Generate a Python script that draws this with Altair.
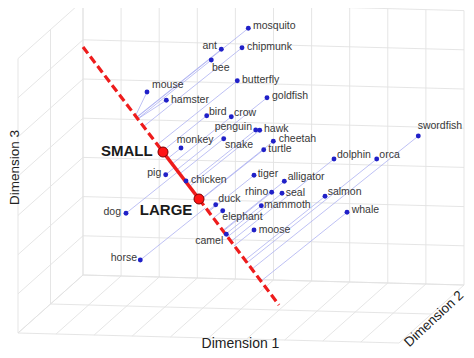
import altair as alt
import pandas as pd

# ---- data: animals as they appear in the projected (viewed) plane ----
names = ["mosquito", "ant", "chipmunk", "bee", "butterfly", "mouse", "hamster",
         "goldfish", "bird", "crow", "penguin", "hawk", "cheetah", "snake",
         "monkey", "turtle", "swordfish", "dolphin", "orca", "pig", "chicken",
         "tiger", "alligator", "rhino", "seal", "salmon", "duck", "mammoth",
         "whale", "dog", "elephant", "camel", "moose", "horse"]
proj_x = [248.3, 221.3, 242.0, 211.3, 237.3, 147.0, 166.3,
          267.0, 206.7, 231.3, 255.7, 259.7, 273.3, 223.7,
          181.0, 263.7, 418.3, 334.0, 376.7, 165.7, 186.0,
          254.0, 284.3, 271.7, 282.0, 325.0, 215.7, 261.3,
          347.0, 126.0, 222.7, 226.3, 254.0, 140.3]
proj_y = [28.3, 49.3, 47.7, 60.0, 80.7, 92.0, 100.3,
          97.7, 115.7, 116.7, 130.0, 130.3, 141.3, 138.7,
          148.0, 149.7, 136.0, 159.0, 159.0, 174.7, 181.0,
          175.3, 181.3, 192.3, 193.3, 196.3, 204.7, 205.7,
          212.3, 213.3, 210.7, 234.3, 230.0, 260.0]
# where each animal's projection meets the size line (vertical position)
foot_y = [117.6, 117.3, 126.6, 118.9, 144.7, 116.0, 119.0,
          170.1, 151.3, 164.1, 184.5, 186.7, 200.3, 174.0,
          158.5, 200.7, 269.2, 241.5, 262.8, 167.5, 181.6,
          211.9, 230.7, 231.3, 237.0, 260.2, 211.1, 234.4,
          281.2, 171.8, 218.3, 234.8, 245.9, 208.0]

# size line: top end, SMALL, LARGE, bottom end
size_line_x = [83.0, 163.0, 199.0, 279.0]
size_line_y = [47.0, 152.0, 199.0, 305.0]
anchor_labels = ["SMALL", "LARGE"]

# ---- label placement (style) ----
place = {
    "mosquito": (4.7, -2.3, "left"), "ant": (-4.3, -3.3, "right"),
    "chipmunk": (5.0, -0.7, "left"), "bee": (0.7, 7.7, "left"),
    "butterfly": (4.7, -0.7, "left"), "mouse": (5.0, -7.0, "left"),
    "hamster": (4.7, 0.0, "left"), "goldfish": (5.0, -2.0, "left"),
    "bird": (2.3, -4.0, "left"), "crow": (2.7, -4.0, "left"),
    "penguin": (-3.7, -2.7, "right"), "hawk": (4.3, -1.6, "left"),
    "cheetah": (5.4, -2.3, "left"), "snake": (1.3, 6.0, "left"),
    "monkey": (-4.3, -7.7, "left"), "turtle": (4.6, -0.4, "left"),
    "swordfish": (-0.6, -10.0, "left"), "dolphin": (3.0, -4.0, "left"),
    "orca": (2.6, -4.0, "left"), "pig": (-4.4, -1.7, "right"),
    "chicken": (5.0, -1.3, "left"), "tiger": (3.7, -1.6, "left"),
    "alligator": (3.4, -4.0, "left"), "rhino": (-3.4, -0.6, "right"),
    "seal": (3.7, 0.0, "left"), "salmon": (2.7, -4.3, "left"),
    "duck": (2.6, -5.7, "left"), "mammoth": (2.7, -0.7, "left"),
    "whale": (4.7, -2.0, "left"), "dog": (-5.0, -1.3, "right"),
    "elephant": (-0.4, 6.6, "left"), "camel": (-3.0, 6.7, "right"),
    "moose": (4.7, -0.3, "left"), "horse": (-3.3, -2.3, "right"),
}

# ---- box geometry (oblique view) ----
N_U, N_V, N_W = 10, 7, 2
O = (83.0, 275.0)
EU = (38.1, 1.0)
EV = (0.0, -39.2)
EW = (-32.5, 29.0)


def proj(u, v, w):
    return (O[0] + EU[0] * u + EV[0] * v + EW[0] * w,
            O[1] + EU[1] * u + EV[1] * v + EW[1] * w)


segs = []


def seg(p, q):
    a, b = proj(*p), proj(*q)
    segs.append({"x": a[0], "y": a[1], "x2": b[0], "y2": b[1]})


# back wall
for u in range(N_U + 1):
    seg((u, 0, 0), (u, N_V, 0))
for v in range(N_V + 1):
    seg((0, v, 0), (N_U, v, 0))
# left wall
for v in range(N_V + 1):
    seg((0, v, 0), (0, v, N_W))
for w in range(N_W + 1):
    seg((0, 0, w), (0, N_V, w))
# floor
for u in range(N_U + 1):
    seg((u, 0, 0), (u, 0, N_W))
for w in range(N_W + 1):
    seg((0, 0, w), (N_U, 0, w))
grid_df = pd.DataFrame(segs)

# size line helpers
tx, ty = size_line_x[0], size_line_y[0]
bx, by = size_line_x[-1], size_line_y[-1]
slope = (bx - tx) / (by - ty)

pts = pd.DataFrame({"name": names, "x": proj_x, "y": proj_y})
proj_df = pd.DataFrame({
    "x": proj_x, "y": proj_y,
    "x2": [tx + (fy - ty) * slope for fy in foot_y], "y2": foot_y,
})
lab = pd.DataFrame({
    "name": names,
    "x": [px + place[n][0] for n, px in zip(names, proj_x)],
    "y": [py + place[n][1] for n, py in zip(names, proj_y)],
    "align": [place[n][2] for n in names],
})

dash_df = pd.DataFrame({
    "x": [size_line_x[0], size_line_x[2]], "y": [size_line_y[0], size_line_y[2]],
    "x2": [size_line_x[1], size_line_x[3]], "y2": [size_line_y[1], size_line_y[3]],
})
solid_df = pd.DataFrame({"x": [size_line_x[1]], "y": [size_line_y[1]],
                         "x2": [size_line_x[2]], "y2": [size_line_y[2]]})
anchors = pd.DataFrame({"label": anchor_labels,
                        "x": [size_line_x[1], size_line_x[2]],
                        "y": [size_line_y[1], size_line_y[2]]})
anchor_text = pd.DataFrame({"label": anchor_labels,
                            "x": [size_line_x[1] - 10.3, size_line_x[2] - 6.7],
                            "y": [size_line_y[1] - 1.3, size_line_y[2] + 11.3]})

titles = pd.DataFrame({"t": ["Dimension 1"], "x": [240.5], "y": [343.5]})
title2 = pd.DataFrame({"t": ["Dimension 2"], "x": [434.0], "y": [319.0]})
title3 = pd.DataFrame({"t": ["Dimension 3"], "x": [15.0], "y": [167.5]})

xs = alt.Scale(domain=[8, 466], nice=False, zero=False)
ys = alt.Scale(domain=[8, 350], nice=False, zero=False, reverse=True)
X = alt.X("x:Q", scale=xs, axis=None)
Y = alt.Y("y:Q", scale=ys, axis=None)
X2 = alt.X2("x2:Q")
Y2 = alt.Y2("y2:Q")

FONT = "Liberation Sans"
RED = "#ee1c1c"

grid = alt.Chart(grid_df).mark_rule(color="#e2e2e2", strokeWidth=0.9).encode(X, Y, X2, Y2)
projl = alt.Chart(proj_df).mark_rule(color="#a9aef0", strokeWidth=0.9, opacity=0.85).encode(X, Y, X2, Y2)
dash = alt.Chart(dash_df).mark_rule(color=RED, strokeWidth=3.2, strokeDash=[8, 4],
                                    strokeCap="butt").encode(X, Y, X2, Y2)
solid = alt.Chart(solid_df).mark_rule(color=RED, strokeWidth=3.6).encode(X, Y, X2, Y2)
dots = alt.Chart(pts).mark_circle(size=24, color="#2020c8", opacity=1).encode(X, Y)
big = alt.Chart(anchors).mark_point(shape="circle", filled=True, size=100, fill="#ff1414",
                                    stroke="#7a0000", strokeWidth=1, opacity=1).encode(X, Y)

layers = [grid, projl, dash, solid, dots, big]
for al in ["left", "right"]:
    layers.append(
        alt.Chart(lab[lab["align"] == al]).mark_text(
            align=al, baseline="middle", font=FONT, fontSize=10.5, color="#383838"
        ).encode(X, Y, text="name:N")
    )
layers.append(alt.Chart(anchor_text).mark_text(
    align="right", baseline="middle", font=FONT, fontSize=15, fontWeight="bold", color="#1a1a1a"
).encode(X, Y, text="label:N"))
layers.append(alt.Chart(titles).mark_text(
    align="center", baseline="middle", font=FONT, fontSize=14, color="#222222"
).encode(X, Y, text="t:N"))
layers.append(alt.Chart(title2).mark_text(
    align="center", baseline="middle", font=FONT, fontSize=13.5, color="#222222", angle=317
).encode(X, Y, text="t:N"))
layers.append(alt.Chart(title3).mark_text(
    align="center", baseline="middle", font=FONT, fontSize=13.5, color="#222222", angle=270
).encode(X, Y, text="t:N"))

chart = alt.layer(*layers).properties(
    width=458, height=342, padding=0,
    autosize=alt.AutoSizeParams(type="none"),
).configure_view(strokeWidth=0)

chart.save("out.html", embed_options={"renderer": "svg", "actions": False})
